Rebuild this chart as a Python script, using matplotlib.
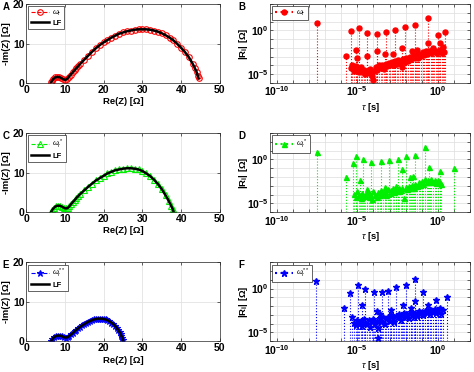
import numpy as np
import matplotlib
matplotlib.use('Agg')
import matplotlib.pyplot as plt
from matplotlib.ticker import NullFormatter, FixedLocator

plt.rcParams['font.family'] = ['Liberation Sans', 'DejaVu Sans']
plt.rcParams['mathtext.fontset'] = 'custom'
plt.rcParams['mathtext.rm'] = 'Liberation Sans'
plt.rcParams['mathtext.it'] = 'Liberation Sans:italic'
plt.rcParams['mathtext.bf'] = 'Liberation Sans:bold'

# Nyquist data (Re, -Im) in Ohm
re_a = [6.5, 6.7, 7.0, 7.5, 8.0, 8.5, 9.0, 9.5, 10.0, 10.5, 11.0, 11.5, 12, 12.5, 13, 13.5, 14, 15, 16,
        17, 18, 19, 20, 21, 22, 23, 24, 25, 26, 27, 28, 29, 30, 31, 32, 33, 34, 35, 36, 37, 38, 39,
        40, 41, 42, 43, 43.5, 44, 44.3, 44.5]
im_a = [0.2, 0.6, 1.0, 1.4, 1.5, 1.5, 1.3, 1.0, 0.8, 0.9, 1.5, 2.1, 2.7, 3.2, 3.8, 4.3, 4.9, 5.9, 6.9,
        7.9, 8.8, 9.6, 10.3, 10.9, 11.5, 12.0, 12.5, 12.8, 13.1, 13.3, 13.5, 13.6, 13.6, 13.6, 13.5,
        13.3, 13.0, 12.6, 12.1, 11.5, 10.8, 9.9, 8.9, 7.8, 6.5, 4.8, 3.8, 2.7, 1.8, 1.2]

re_c = [6.5, 6.8, 7.2, 7.7, 8.2, 8.7, 9.2, 9.7, 10.2, 10.7, 11.2, 11.6, 12, 12.5, 13, 13.5, 14, 15, 16,
        17, 18, 19, 20, 21, 22, 23, 24, 25, 26, 27, 28, 29, 30, 31, 32, 33, 34, 35, 36, 36.8, 37.4,
        37.8, 38.0]
im_c = [0.1, 0.6, 1.1, 1.5, 1.6, 1.6, 1.4, 1.1, 0.9, 1.0, 1.5, 2.0, 2.5, 3.0, 3.6, 4.1, 4.6, 5.5, 6.4,
        7.2, 8.0, 8.6, 9.2, 9.8, 10.2, 10.6, 10.8, 11.0, 11.1, 11.1, 11.0, 10.8, 10.4, 9.8, 9.1, 8.2,
        7.1, 5.8, 4.2, 2.8, 1.6, 0.8, 0.2]

re_e = [6.5, 6.8, 7.2, 7.7, 8.2, 8.7, 9.2, 9.7, 10.2, 10.7, 11.2, 11.6, 12, 12.5, 13, 13.5, 14, 14.5,
        15, 15.5, 16, 16.5, 17, 17.5, 18, 18.5, 19, 19.5, 20, 20.5, 21, 21.5, 22, 22.5, 23, 23.4,
        23.8, 24.1, 24.4, 24.6, 24.8, 25.0]
im_e = [0.1, 0.6, 1.0, 1.3, 1.4, 1.4, 1.3, 1.0, 0.9, 1.0, 1.4, 1.7, 2.0, 2.5, 2.9, 3.3, 3.7, 4.0,
        4.3, 4.6, 4.9, 5.1, 5.3, 5.5, 5.6, 5.7, 5.7, 5.7, 5.6, 5.5, 5.3, 5.0, 4.7, 4.3, 3.8, 3.3,
        2.8, 2.3, 1.8, 1.3, 0.9, 0.2]

# DRT peaks: log10(tau [s]) and log10(|R_i| [Ohm])
logtau_b = [-7.5, -5.67, -5.42, -4.9, -4.38, -3.8, -3.23, -2.65, -2.04, -1.44, -0.63, 0.0, 0.42,
            -5.1, -5.04, -4.4, -3.75, -3.3, -2.8, -2.2, -1.6, -1.3, -0.6, -0.3, 0.1, 0.3,
            -5.4, -5.3, -5.2, -5.1, -5.0, -4.9, -4.8, -4.7, -4.6, -4.5, -4.4, -4.3, -4.2, -4.1, -4.04,
            -3.95, -3.85, -3.75, -3.65, -3.55, -3.45, -3.35, -3.25, -3.15, -3.05, -2.95, -2.85, -2.75,
            -2.65, -2.55, -2.45, -2.35, -2.25, -2.15, -2.05, -1.95, -1.85, -1.75, -1.65, -1.55, -1.45,
            -1.35, -1.25, -1.15, -1.05, -0.95, -0.85, -0.75, -0.65, -0.55, -0.45, -0.35, -0.25, -0.15,
            -0.05, 0.05, 0.15, 0.25, 0.35]
logr_b = [0.8, -2.9, -0.07, 0.3, -0.3, -0.37, -0.19, 0.04, 0.37, 0.67, 1.42, -0.56, -0.15,
          -2.2, -3.2, -2.9, -2.4, -2.7, -2.7, -2.0, -2.3, -2.2, -1.4, -2.0, -1.4, -1.9,
          -4.3, -3.9, -4.6, -4.1, -4.4, -4.8, -4.2, -4.7, -4.5, -5.0, -4.6, -4.9, -4.4, -5.2, -5.7,
          -4.6, -4.2, -4.5, -3.9, -4.3, -4.0, -4.4, -3.8, -4.1, -3.7, -4.0, -3.6, -3.9,
          -3.5, -3.8, -3.4, -3.7, -4.2, -3.3, -3.6, -3.1, -3.5, -3.0, -3.3, -2.9, -3.2,
          -2.8, -3.1, -2.7, -2.9, -2.5, -2.8, -2.4, -2.7, -2.3, -2.6, -2.2, -2.5, -2.3,
          -2.6, -2.4, -2.2, -2.6, -2.5]

logtau_d = [-7.5, -5.71, -5.29, -5.1, -4.83, -4.67, -4.15, -3.56, -3.02, -2.48, -2.23, -1.98, -1.44,
            -0.81, -0.56, 0.15, 1.02, -1.71, -1.55, -2.6, -3.3, -4.4,
            -5.2, -5.1, -5.0, -4.9, -4.8, -4.7, -4.6, -4.5, -4.4, -4.3, -4.2, -4.1, -4.0, -3.9, -3.8,
            -3.7, -3.6, -3.5, -3.4, -3.3, -3.2, -3.1, -3.0, -2.9, -2.8, -2.7, -2.6, -2.5, -2.4, -2.3,
            -2.2, -2.1, -2.0, -1.9, -1.8, -1.7, -1.6, -1.5, -1.4, -1.3, -1.2, -1.1, -1.0, -0.9, -0.8,
            -0.7, -0.6, -0.5, -0.4, -0.3, -0.2, -0.1, 0.0, 0.1, 0.2]
logr_d = [0.85, -2.04, -0.44, 0.37, -2.33, 0.07, -0.3, -0.19, -0.11, 0.11, -1.1, 0.37, 0.56,
          1.37, -0.81, -1.37, -0.93, -1.96, -1.9, -3.0, -3.1, -3.4,
          -3.9, -4.3, -3.6, -4.1, -4.4, -3.8, -4.2, -4.0, -3.7, -4.3, -3.9, -4.5, -3.6, -4.0, -4.3,
          -3.7, -4.0, -3.5, -3.9, -3.6, -4.1, -3.4, -3.8, -3.5, -3.3, -3.7, -3.4, -3.6, -3.2, -3.5,
          -3.3, -4.4, -3.1, -3.4, -3.0, -3.3, -2.9, -3.2, -2.8, -3.0, -2.6, -2.9, -2.5, -2.8, -2.2,
          -2.6, -2.3, -2.5, -2.2, -2.6, -2.4, -2.7, -2.3, -2.6, -2.8]

logtau_f = [-7.58, -5.81, -5.44, -4.98, -4.73, -4.52, -3.94, -3.48, -3.08, -2.58, -2.19, -1.98, -1.4,
            -0.94, -1.4, -0.15, 0.54, -3.79, -3.6, -2.9, -1.7, -0.6, -3.73,
            -5.3, -5.2, -5.1, -5.0, -4.9, -4.8, -4.7, -4.6, -4.5, -4.4, -4.3, -4.2, -4.1, -4.0, -3.9,
            -3.8, -3.7, -3.6, -3.5, -3.4, -3.3, -3.2, -3.1, -3.0, -2.9, -2.8, -2.7, -2.6, -2.5, -2.4,
            -2.3, -2.2, -2.1, -2.0, -1.9, -1.8, -1.7, -1.6, -1.5, -1.4, -1.3, -1.2, -1.1, -1.0, -0.9,
            -0.8, -0.7, -0.6, -0.5, -0.4, -0.3, -0.2, -0.1, 0.0, 0.1, 0.2, 0.3]
logr_f = [0.85, -2.19, -0.52, 0.37, -1.85, -0.07, -0.37, -0.44, -0.26, 0.19, -1.93, 0.41, 1.11,
          -0.44, -1.37, -1.26, -0.93, -2.6, -2.9, -2.5, -2.2, -1.9, -5.7,
          -3.3, -3.9, -4.2, -3.6, -4.0, -3.7, -4.3, -3.5, -3.9, -4.1, -3.6, -4.4, -3.8, -3.5, -4.0,
          -3.7, -4.5, -3.4, -3.8, -3.3, -4.0, -3.5, -3.2, -3.7, -3.0, -3.4, -3.8, -3.1, -3.3, -2.9,
          -3.6, -3.1, -2.8, -3.2, -2.9, -3.4, -2.7, -3.0, -3.3, -2.8, -3.1, -2.6, -2.9, -2.7, -3.0,
          -2.6, -2.8, -2.5, -2.9, -2.4, -2.7, -2.3, -2.8, -2.5, -2.2, -2.9, -2.4]

colors = ['#ff0000', '#00ee00', '#0000ff']
markers = ['o', '^', '*']
labels = [r'$\omega_r$', r'$\omega_r^*$', r'$\omega_r^{**}$']
nyq = [(re_a, im_a), (re_c, im_c), (re_e, im_e)]
drt = [(logtau_b, logr_b), (logtau_d, logr_d), (logtau_f, logr_f)]
letters = [('A', 'B'), ('C', 'D'), ('E', 'F')]
# axes rows (bottom, height) in figure fraction
rows = [(0.777, 0.212), (0.430, 0.212), (0.083, 0.212)]

fig = plt.figure(figsize=(4.74, 3.72), dpi=100)
fs = 7.5
fl = 6.8


def style(ax):
    ax.tick_params(direction='in', top=True, right=True, labelsize=fs, length=2,
                   width=0.5, which='both', color='#262626', pad=1.2)
    for lab in ax.get_xticklabels() + ax.get_yticklabels():
        lab.set_fontweight('bold')
    for s in ax.spines.values():
        s.set_linewidth(0.5)
        s.set_color('#262626')


def legend(ax, handles, labs):
    leg = ax.legend(handles, labs, loc='upper left', fontsize=5.5, handlelength=2.4,
                    borderpad=0.3, labelspacing=0.2, handletextpad=0.4, borderaxespad=0.3,
                    fancybox=False, framealpha=1, edgecolor='#262626', numpoints=1)
    leg.get_frame().set_linewidth(0.5)
    for t in leg.get_texts():
        t.set_fontweight('bold')


for i in range(3):
    bot, h = rows[i]
    # Nyquist
    ax = fig.add_axes([0.055, bot, 0.409, h])
    re, im = nyq[i]
    l1, = ax.plot(re, im, linestyle='--', marker=markers[i], color=colors[i], lw=0.8,
                  ms=4 if i < 2 else 4.5, mfc='none' if i < 2 else colors[i], mew=0.8)
    l2, = ax.plot(re, im, color='black', lw=1.8)
    ax.set_xlim(0, 50)
    ax.set_ylim(0, 20)
    ax.set_xticks([0, 10, 20, 30, 40, 50])
    ax.set_yticks([0, 10, 20])
    ax.grid(True, color='#dddddd', lw=0.5)
    ax.set_axisbelow(True)
    ax.set_xlabel('Re(Z) [Ω]', fontsize=fl, fontweight='bold', labelpad=2)
    ax.set_ylabel('-Im(Z) [Ω]', fontsize=fl, fontweight='bold')
    ax.yaxis.set_label_coords(-0.077, 0.5)
    legend(ax, [l1, l2], [labels[i], 'LF'])
    style(ax)
    fig.text(0.006, bot + h + 0.005, letters[i][0], fontsize=7, fontweight='bold', va='top')

    # DRT
    ax2 = fig.add_axes([0.570, bot, 0.422, h])
    lt, lr = drt[i]
    tau = 10.0 ** np.array(lt)
    rr = 10.0 ** np.array(lr)
    ax2.set_xscale('log')
    ax2.set_yscale('log')
    ax2.vlines(tau, 1e-7, rr, colors=colors[i], linestyles=':', lw=0.8)
    ax2.plot(tau, rr, linestyle='none', marker=markers[i], color=colors[i],
             ms=3.6 if i < 2 else 4.8)
    ax2.set_xlim(10 ** -10.4, 1e2)
    ax2.set_ylim(1e-6, 1e3)
    ax2.xaxis.set_major_locator(FixedLocator([1e-10, 1e-5, 1e0]))
    ax2.xaxis.set_minor_locator(FixedLocator([10.0 ** k for k in range(-10, 3)]))
    ax2.yaxis.set_major_locator(FixedLocator([1e-5, 1e0]))
    ax2.yaxis.set_minor_locator(FixedLocator([10.0 ** k for k in range(-6, 4)]))
    ax2.xaxis.set_minor_formatter(NullFormatter())
    ax2.yaxis.set_minor_formatter(NullFormatter())
    ax2.set_xticklabels([r'$\mathbf{10^{-10}}$', r'$\mathbf{10^{-5}}$', r'$\mathbf{10^{0}}$'])
    ax2.set_yticklabels([r'$\mathbf{10^{-5}}$', r'$\mathbf{10^{0}}$'])
    ax2.grid(True, which='both', color='#dddddd', lw=0.5)
    ax2.set_axisbelow(True)
    ax2.set_xlabel(r'$\tau$ [s]', fontsize=fl, fontweight='bold', labelpad=2)
    ax2.set_ylabel(r'|R$_\mathregular{i}$| [Ω]', fontsize=fl, fontweight='bold')
    ax2.yaxis.set_label_coords(-0.1, 0.5)
    h2, = ax2.plot([], [], linestyle=':', marker=markers[i], color=colors[i],
                   ms=3.6 if i < 2 else 4.8)
    legend(ax2, [h2], [labels[i]])
    style(ax2)
    fig.text(0.503, bot + h + 0.005, letters[i][1], fontsize=7, fontweight='bold', va='top')

fig.savefig('out.png', dpi=100)
